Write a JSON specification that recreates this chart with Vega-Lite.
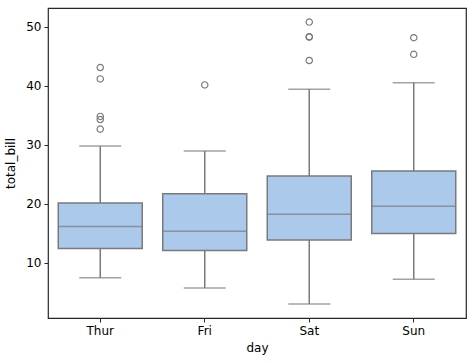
{
  "$schema": "https://vega.github.io/schema/vega-lite/v6.json",
  "autosize": "none",
  "width": 418,
  "height": 310,
  "padding": {"left": 48, "top": 8, "right": 8, "bottom": 45},
  "background": "white",
  "config": {
    "view": {"stroke": "#262626", "strokeWidth": 1.2},
    "font": "DejaVu Sans",
    "axis": {
      "labelFont": "DejaVu Sans",
      "titleFont": "DejaVu Sans",
      "labelFontSize": 12,
      "titleFontSize": 12,
      "titleFontWeight": "normal",
      "labelColor": "#000",
      "titleColor": "#000",
      "tickColor": "#262626",
      "tickSize": 4,
      "tickWidth": 1,
      "grid": false,
      "domain": false
    }
  },
  "datasets": {
    "boxes": [
      {"day": "Thur", "lower": 7.51, "q1": 12.44, "median": 16.2, "q3": 20.16, "upper": 29.8},
      {"day": "Fri", "lower": 5.75, "q1": 12.1, "median": 15.38, "q3": 21.75, "upper": 28.97},
      {"day": "Sat", "lower": 3.07, "q1": 13.91, "median": 18.24, "q3": 24.74, "upper": 39.42},
      {"day": "Sun", "lower": 7.25, "q1": 14.99, "median": 19.63, "q3": 25.6, "upper": 40.55}
    ],
    "outliers": [
      {"day": "Thur", "total_bill": 32.68},
      {"day": "Thur", "total_bill": 34.3},
      {"day": "Thur", "total_bill": 34.83},
      {"day": "Thur", "total_bill": 41.19},
      {"day": "Thur", "total_bill": 43.11},
      {"day": "Fri", "total_bill": 40.17},
      {"day": "Sat", "total_bill": 44.3},
      {"day": "Sat", "total_bill": 48.27},
      {"day": "Sat", "total_bill": 48.33},
      {"day": "Sat", "total_bill": 50.81},
      {"day": "Sun", "total_bill": 45.35},
      {"day": "Sun", "total_bill": 48.17}
    ]
  },
  "encoding": {
    "x": {
      "field": "day",
      "type": "nominal",
      "sort": ["Thur", "Fri", "Sat", "Sun"],
      "scale": {"paddingInner": 0, "paddingOuter": 0},
      "axis": {"labelAngle": 0, "title": "day", "titlePadding": 6, "labelPadding": 3}
    }
  },
  "layer": [
    {
      "data": {"name": "boxes"},
      "mark": {"type": "rule", "color": "#7a7a7a", "strokeWidth": 1.5},
      "encoding": {
        "y": {
          "field": "lower",
          "type": "quantitative",
          "scale": {"domain": [0.68, 53.2], "nice": false, "zero": false},
          "axis": {"values": [10, 20, 30, 40, 50], "title": "total_bill", "titlePadding": 8, "labelPadding": 3}
        },
        "y2": {"field": "upper"}
      }
    },
    {
      "data": {"name": "boxes"},
      "mark": {"type": "tick", "color": "#7a7a7a", "thickness": 1.5, "size": 42, "orient": "horizontal"},
      "encoding": {"y": {"field": "lower", "type": "quantitative"}}
    },
    {
      "data": {"name": "boxes"},
      "mark": {"type": "tick", "color": "#7a7a7a", "thickness": 1.5, "size": 42, "orient": "horizontal"},
      "encoding": {"y": {"field": "upper", "type": "quantitative"}}
    },
    {
      "data": {"name": "boxes"},
      "mark": {"type": "bar", "fill": "#abc9ea", "stroke": "#7a7a7a", "strokeWidth": 1.5, "width": 84},
      "encoding": {
        "y": {"field": "q1", "type": "quantitative"},
        "y2": {"field": "q3"}
      }
    },
    {
      "data": {"name": "boxes"},
      "mark": {"type": "tick", "color": "#7a7a7a", "thickness": 1.5, "size": 84, "orient": "horizontal"},
      "encoding": {"y": {"field": "median", "type": "quantitative"}}
    },
    {
      "data": {"name": "outliers"},
      "mark": {"type": "point", "shape": "circle", "filled": false, "stroke": "#7a7a7a", "strokeWidth": 1.2, "size": 40, "opacity": 1},
      "encoding": {"y": {"field": "total_bill", "type": "quantitative"}}
    }
  ]
}
